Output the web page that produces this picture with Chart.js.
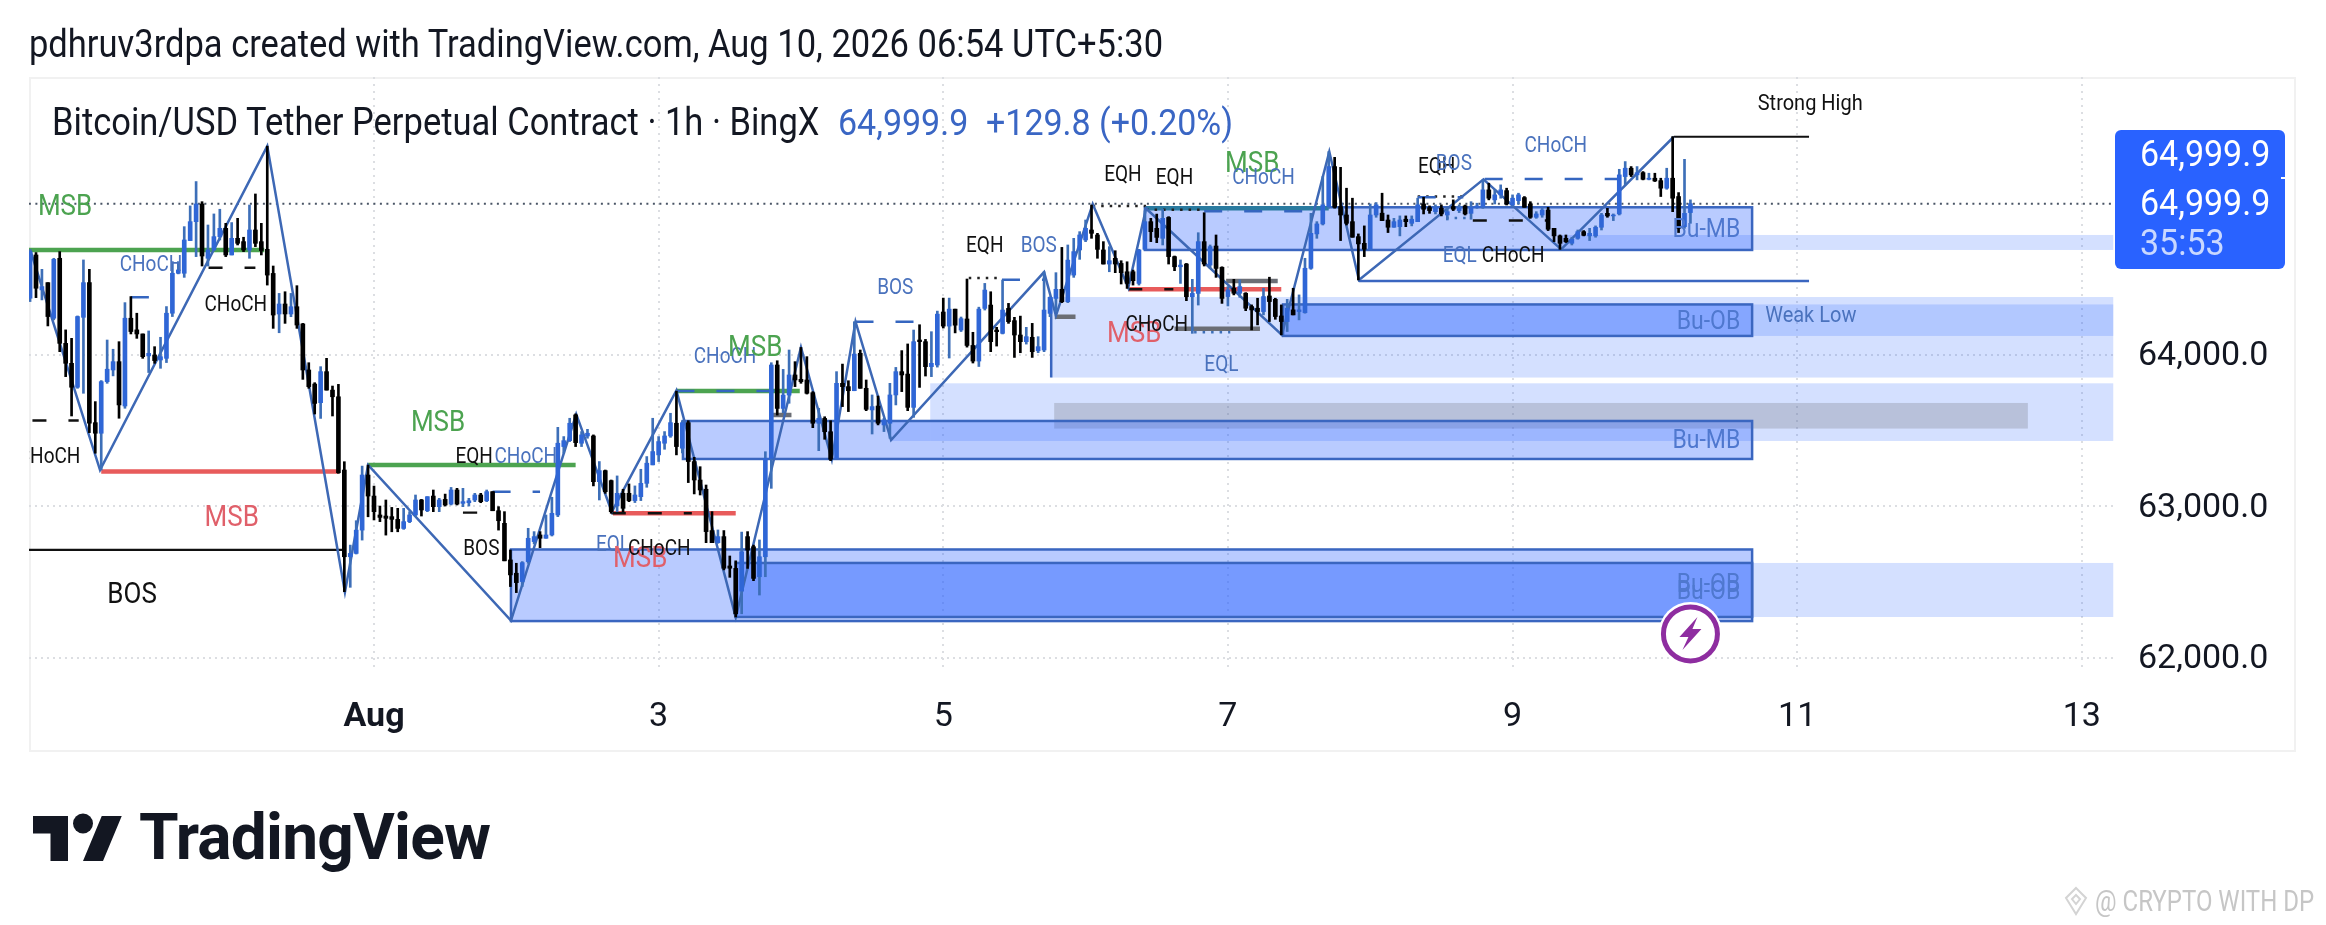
<!DOCTYPE html>
<html><head><meta charset="utf-8">
<script src="https://cdn.jsdelivr.net/npm/chart.js@4/dist/chart.umd.min.js"></script>
<style>
html,body{margin:0;padding:0;background:#fff;width:2326px;height:925px;overflow:hidden;font-family:Roboto,sans-serif}
canvas{position:absolute;left:0;top:0}
.t{position:absolute;white-space:nowrap;line-height:1;transform:scaleY(1.1);transform-origin:0 50%}
#frame{position:absolute;left:29px;top:77px;width:2267px;height:675px;border:2px solid #f1f1f1;box-sizing:border-box}
.tag{position:absolute;background:#2962ff;left:2115px;width:170px}
</style></head><body>
<div id="frame"></div>
<canvas id="c" width="2326" height="925"></canvas>
<div class="t" style="left:29px;top:27px;font-size:34.5px;color:#131722">pdhruv3rdpa created with TradingView.com, Aug 10, 2026 06:54 UTC+5:30</div>
<div class="t" style="left:52px;top:105px;font-size:34.5px;color:#131722">Bitcoin/USD Tether Perpetual Contract · 1h · BingX</div>
<div class="t" style="left:838px;top:105px;font-size:34px;color:#3a66c4">64,999.9</div>
<div class="t" style="left:986px;top:105px;font-size:34px;color:#3a66c4">+129.8 (+0.20%)</div>
<div class="tag" style="top:130px;height:47px;border-radius:6px 6px 0 0"></div>
<div class="tag" style="top:179px;height:90px;border-radius:0 0 6px 6px"></div>
<div class="tag" style="top:170px;height:14px;width:166px"></div>
<div class="t" style="left:2140px;top:136px;font-size:34px;color:#fff">64,999.9</div>
<div class="t" style="left:2140px;top:185px;font-size:34px;color:#fff">64,999.9</div>
<div class="t" style="left:2140px;top:225px;font-size:34px;color:#c9d8ff">35:53</div>
<svg style="position:absolute;left:33px;top:806px" width="90" height="70" viewBox="0 0 36 28"><path fill="#131722" d="M14 22H7V11H0V4h14v18zM28 22h-8l7.5-18h8L28 22z"/><circle fill="#131722" cx="20" cy="7" r="4"/></svg>
<div class="t" style="left:139px;top:806px;font-size:64px;font-weight:700;color:#131722;letter-spacing:-0.8px;transform:none">TradingView</div>
<svg style="position:absolute;left:2062px;top:886px" width="28" height="30" viewBox="0 0 28 30"><path fill="none" stroke="#d4d4d4" stroke-width="2" d="M14 2 L24 12 L14 28 L4 12 Z M14 9 L18 13 L14 18 L10 13 Z"/></svg>
<div class="t" style="left:2095px;top:889px;font-size:24px;color:#c6c6c6;transform:scaleY(1.2)">@ CRYPTO WITH DP</div>
<script>
const firstHour = -58;
const opens = [
64375,64661,64430,64478,64243,64639,64077,63945,63787,64249,64478,63553,63483,63824,63901,63956,63663,64243,64166,64139,63994,64000,63967,63978,64276,64540,64540,64756,64881,64998,64639,64694,64782,64837,64661,64771,64749,64694,64826,64749,
64698,64539,64271,64337,64271,64319,64205,63901,63808,63685,63890,63768,63724,63240,62667,62689,62843,63207,63068,62943,62936,62932,62914,62854,62899,62943,63042,62971,63068,62998,63046,63015,63108,63020,63024,63042,63075,63037,63097,62971,
62888,62646,62558,62503,62635,62767,62811,62789,62811,62943,63395,63434,63604,63417,63465,63465,63163,63236,63170,63003,63086,63086,63038,63064,63152,63274,63340,63417,63465,63549,
63384,63553,63296,63174,63113,62840,62760,62800,62606,62590,62440,62800,62733,62535,62667,63317,63934,63647,63735,63868,63839,63835,63751,63549,63581,63493,63317,63813,63791,63764,
64011,63780,63637,63663,63538,63549,63736,63890,63874,63654,64099,64088,63923,63934,64284,64191,64303,64165,64238,64063,63960,64308,64330,64165,64143,64308,64227,64132,64088,64117,
64028,64033,64275,64374,64434,64352,64528,64694,64760,64826,64793,64694,64601,64639,64605,64550,64550,64473,64698,64881,64837,64771,64909,64650,64583,64601,64385,64407,64749,64594,
64720,64579,64386,64441,64408,64408,64320,64309,64287,64390,64368,64258,64221,64298,64287,64280,64573,64800,64866,64981,65245,64981,64925,64881,64782,64738,64699,64925,64937,64892,
64844,64848,64897,64870,64881,64998,64974,64947,64970,64925,64981,64954,64985,64936,64974,64976,65091,65025,65058,65086,64991,65020,65040,64998,64910,64925,64958,64837,64787,64771,
64738,64771,64815,64787,64787,64844,64936,64919,64932,65179,65234,65190,65205,65161,65168,65152,65102,65168,65047,64848,64941];
const highs = [
64694,64677,64566,64478,64639,64683,64166,64110,64258,64628,64566,63692,63831,64099,64038,64088,64346,64386,64276,64139,64159,64055,64117,64320,64617,64617,64848,64985,65146,65013,64859,64932,64963,64870,64875,64903,64778,64991,65064,64870,
65380,64588,64407,64418,64407,64458,64209,63949,63817,63923,63978,63795,63806,63295,62744,62905,63266,63273,63134,63002,63042,62993,62987,62987,62965,63075,63046,63064,63108,63053,63081,63125,63119,63119,63053,63086,63086,63108,63097,62998,
62965,62712,62624,62635,62855,62833,62833,62943,63060,63522,63461,63582,63611,63494,63509,63472,63296,63240,63174,63201,63113,63148,63135,63245,63329,63582,63461,63494,63615,63761,
63566,63566,63324,63262,63141,62965,62844,62840,62672,62640,62830,62833,62744,62778,63361,63949,63962,63905,64033,63956,64050,63989,63758,63648,63592,63566,63890,63940,63830,64220,
64033,63835,63736,63729,63582,63813,63918,64029,64073,64165,64200,64103,64154,64290,64376,64376,64303,64251,64502,64150,64316,64473,64418,64183,64495,64341,64249,64257,64183,64209,
64121,64550,64385,64544,64711,64727,64771,64815,64892,64991,64804,64749,64716,64689,64623,64616,64561,64698,64953,64903,64931,64962,64914,64654,64628,64605,64500,64808,64940,64727,
64793,64583,64452,64500,64496,64412,64331,64375,64441,64514,64375,64331,64368,64441,64397,64639,64936,64881,65179,65344,65306,65240,65102,65036,64800,64853,64998,65007,65069,64925,
64903,64919,64919,64919,65036,65042,64985,64992,64992,64970,65025,64992,64991,65013,65003,65157,65135,65091,65124,65102,65058,65069,65047,65013,64947,64969,64976,64837,64793,64793,
64778,64826,64822,64837,64853,64936,64969,64932,65227,65278,65245,65245,65212,65201,65201,65168,65234,65443,65073,65293,65025];
const lows = [
64353,64379,64364,64192,64232,64022,63857,63597,63780,63747,63487,63351,63240,63813,63862,63582,63648,64139,64110,63978,63884,63945,63912,63950,64254,64536,64513,64756,64650,64588,64588,64690,64760,64650,64661,64727,64683,64639,64716,64661,
64462,64176,64147,64209,64253,64176,63839,63780,63610,63581,63768,63597,63218,62436,62465,62685,62777,62931,62910,62899,62810,62832,62832,62848,62892,62932,62936,62965,62965,62965,63002,63009,63009,62998,63002,63031,63024,63031,62971,62843,
62640,62470,62430,62470,62624,62752,62727,62789,62804,62932,63351,63428,63395,63395,63450,63135,63042,63086,62954,62965,62965,63031,63025,63038,63126,63274,63296,63377,63456,63340,
63353,63157,63082,63075,62760,62760,62756,62580,62531,62269,62290,62590,62509,62414,62535,63119,63603,63619,63681,63791,63813,63742,63520,63368,63443,63302,63317,63659,63626,63764,
63780,63632,63478,63538,63494,63450,63670,63758,63632,63588,63786,63861,63857,63920,64178,63980,64146,64155,64052,63947,63924,64297,64022,64059,64139,64209,63984,64015,64072,63984,
64015,64022,64253,64286,64346,64346,64513,64632,64749,64771,64639,64601,64550,64544,64469,64440,64462,64462,64694,64749,64742,64727,64601,64557,64473,64359,64143,64330,64588,64572,
64513,64341,64324,64397,64381,64293,64166,64199,64265,64221,64236,64133,64155,64265,64232,64276,64566,64771,64859,64970,64970,64756,64859,64778,64496,64650,64694,64910,64888,64809,
64844,64787,64848,64853,64881,64932,64936,64932,64919,64892,64954,64941,64925,64897,64969,64969,65025,64998,65036,64991,64980,64998,64976,64903,64903,64910,64822,64749,64698,64743,
64727,64765,64787,64756,64778,64826,64910,64888,64925,65124,65179,65157,65157,65157,65146,65047,65095,64947,64809,64837,64870];
const closes = [
64683,64441,64452,64254,64632,64077,63945,63787,64254,64478,63549,63483,63824,63906,63956,63670,64243,64155,64139,63989,64011,63963,63989,64276,64540,64562,64760,64881,64998,64654,64694,64782,64837,64661,64771,64738,64694,64826,64738,64690,
64528,64264,64337,64271,64319,64198,63901,63791,63680,63890,63768,63724,63222,62667,62689,62843,63207,63068,62965,62927,62921,62914,62854,62899,62943,63042,62976,63064,62998,63042,63009,63108,63015,63031,63037,63075,63031,63097,62971,62905,
62640,62547,62496,62628,62789,62800,62789,62811,62954,63417,63434,63549,63421,63472,63483,63163,63236,63097,62965,63086,62987,63038,63075,63152,63285,63362,63428,63465,63553,63395,
63553,63296,63174,63108,62833,62760,62800,62591,62591,62290,62700,62711,62524,62667,63317,63934,63647,63735,63868,63835,63824,63747,63549,63581,63493,63311,63813,63791,63764,64006,
63780,63641,63659,63549,63570,63736,63890,63868,63654,64088,64088,63923,63945,64270,64191,64303,64197,64240,64063,63960,64303,64429,64088,64154,64297,64220,64132,64088,64121,64022,
64055,64297,64381,64434,64352,64627,64683,64793,64837,64804,64698,64601,64623,64601,64544,64473,64491,64694,64881,64815,64777,64903,64650,64583,64594,64385,64407,64749,64601,64716,
64572,64374,64430,64408,64452,64309,64298,64287,64386,64353,64254,64221,64309,64265,64298,64573,64804,64866,64992,65245,64976,64925,64870,64778,64734,64699,64925,64992,64888,64844,
64881,64892,64881,64897,64992,64963,64954,64976,64932,64947,64963,64974,64932,64976,64985,65091,65036,65058,65091,64998,65036,65058,64976,64910,64932,64958,64831,64787,64738,64749,
64765,64815,64791,64804,64844,64925,64919,64925,65190,65234,65190,65205,65161,65168,65150,65102,65168,65036,64837,64936,64999.9];

const xTickHours = [0,48,96,144,192,240,288];
const xTickLabels = ['Aug','3','5','7','9','11','13'];
const yTickValues = [62000,63000,64000];
const lastPrice = 64999.9;

// zigzag pivots: [hour, price]
const zigzag = [[-58,64698],[-46.2,63240],[-18,65380],[-4.9,62434],[-1,63273],[23.1,62245],[34.1,63610],[40.1,62963],[51,63766],[61,62266],[72,64051],[77.2,63310],[81.2,64220],[87.2,63438],[113,64548],[115,64260],[121.2,64998],[127.2,64445],[130.2,64968],[153.1,64132],[161.1,65343],[166.1,64495],[187.1,65161],[200.2,64698],[219.2,65442]];

// level segments: [hourFrom, hourTo, price]
const greenLevels = [[-58.2,-18.5,64694],[-1,34,63273],[51,71.8,63762]];
const tealLevels = [[130,161,64969]];
const redLevels = [[-46,-6,63231],[40.3,61,62954],[127.2,153,64434]];
const grayLevels = [[114.8,118.3,64253],[66.8,70.4,63603],[143.7,152.4,64489],[135,149.4,64174]];
const blackLevels = [[-58.2,-5.3,62712],[219.2,242,65442],[15,17.4,62958]];
const blueLevels = [[166.1,242,64489],[114.2,114.2,64383]];
const blackDashed = [[-57.6,-49.8,63567],[-27.9,-20,64576],[40.1,53.6,62955],[127.2,134.8,64434],[185.3,198,64888]];
const blueDashed = [[-41,-34,64381],[20,28,63097],[51,69,63762],[81.2,94.3,64220],[105.9,113,64498],[140,158,64950],[187.3,210,65163],[176,183.7,65042]];
const blackDotted = [[100.3,105.2,64508],[121.2,130.2,64985],[130.2,140.2,64960],[176,183.7,65047]];
const blueDotted = [[138.3,144.4,64150],[180.8,184.3,64905]];
const anchorLine = [[114.2,64383],[114.2,63851]];

// zones and boxes: [hourFrom, hourTo, priceTop, priceBottom]
const zones = [[200.2,293.3,64793,64694],[114.2,293.3,64383,63851],[153.3,293.3,64334,64126],[93.8,293.3,63813,63432],[87.2,93.8,63564,63432],[61,293.3,62626,62269]];
const boxes = [[130,232.4,64976,64694],[153.3,232.4,64334,64126],[52.1,232.4,63564,63313],[23.1,232.4,62715,62242],[61,232.4,62626,62269]];
const grayBoxes = [[114.7,278.9,63683,63514]];

// labels: [hour, price, text, colour, size, align]
const BL='#4a72bd', GR='#4ca350', RD='#e0606a', BK='#111111', BO='#4f78cf';
const labels = [
[-52.1,64988,'MSB',GR,26],[-37.6,64608,'CHoCH',BL,19],[-23.3,64344,'CHoCH',BK,19],[-54.8,63339,'CHoCH',BK,19],
[-24,62936,'MSB',RD,26],[-40.8,62429,'BOS',BK,26],[10.8,63560,'MSB',GR,26],[16.9,63339,'EQH',BK,19],[25.6,63339,'CHoCH',BL,19],
[18.1,62733,'BOS',BK,19],[40.3,62758,'EQL',BL,19],[44.9,62665,'MSB',RD,26],[48.1,62733,'CHoCH',BK,19],[59.2,64000,'CHoCH',BL,19],[64.3,64059,'MSB',GR,26],
[87.9,64456,'BOS',BL,19],[103,64730,'EQH',BK,19],[112.1,64730,'BOS',BL,19],[126.3,65204,'EQH',BK,19],[135,65183,'EQH',BK,19],
[148.1,65275,'MSB',GR,26],[150,65183,'CHoCH',BL,19],[142.9,63947,'EQL',BL,19],[128.2,64150,'MSB',RD,26],[132,64213,'CHoCH',BK,19],
[179.2,65255,'EQH',BK,19],[182.1,65277,'BOS',BL,19],[199.3,65392,'CHoCH',BL,19],[183.1,64667,'EQL',BL,19],[192.1,64667,'CHoCH',BK,19],
[242.2,65674,'Strong High',BK,20],[242.3,64271,'Weak Low',BL,20],
[230.4,64839,'Bu-MB',BO,23,'right'],[230.4,64231,'Bu-OB',BO,23,'right'],[230.4,63445,'Bu-MB',BO,23,'right'],[230.4,62494,'Bu-OB',BO,23,'right'],[230.4,62447,'Bu-OB',BO,23,'right']
];
const eventMark = [222, 62157];

const up=[],down=[],wickUp=[],wickDown=[];
opens.forEach((o,i)=>{
  const x=firstHour+i, c=closes[i], isUp=c>=o;
  (isUp?up:down).push({x,y:[o,c]});
  (isUp?wickUp:wickDown).push({x,y:[lows[i],highs[i]]});
});
const segs = list => { const d=[]; list.forEach(s=>{d.push({x:s[0],y:s[2]},{x:s[1],y:s[2]},{x:s[1],y:null});}); return d; };
const pts = list => list.map(p=>({x:p[0],y:p[1]}));
const line = (data,color,width,order,dash) => ({type:'line',data,borderColor:color,borderWidth:width,pointRadius:0,order,borderDash:dash||[],spanGaps:false,tension:0,borderCapStyle:'butt'});
const bar = (data,color,th,order) => ({type:'bar',data,backgroundColor:color,barThickness:th,grouped:false,borderWidth:0,order});

const overlays = {
  id:'overlays',
  beforeDatasetsDraw(ch){
    const {ctx,scales:{x,y}}=ch;
    const rect=(b,fill,stroke)=>{
      const l=x.getPixelForValue(b[0]),r=x.getPixelForValue(b[1]),t=y.getPixelForValue(b[2]),m=y.getPixelForValue(b[3]);
      ctx.fillStyle=fill; ctx.fillRect(l,t,r-l,m-t);
      if(stroke){ctx.strokeStyle=stroke;ctx.lineWidth=2.5;ctx.strokeRect(l,t,r-l,m-t);}
    };
    ctx.save();
    zones.forEach(b=>rect(b,'rgba(41,98,255,0.2)'));
    grayBoxes.forEach(b=>rect(b,'rgba(120,123,134,0.3)'));
    boxes.forEach(b=>rect(b,'rgba(41,98,255,0.33)','#3a66c0'));
    ctx.restore();
  },
  afterDatasetsDraw(ch){
    const {ctx,scales:{x,y},chartArea:a}=ch;
    ctx.save();
    ctx.beginPath();ctx.rect(a.left,a.top,a.right-a.left,a.bottom-a.top);ctx.clip();
    ctx.textBaseline='middle';
    labels.forEach(l=>{
      ctx.save();
      ctx.translate(x.getPixelForValue(l[0]),y.getPixelForValue(l[1])+2.5);
      ctx.scale(1,1.12);
      ctx.font=l[4]+'px Roboto';ctx.fillStyle=l[3];ctx.textAlign=l[5]||'center';
      ctx.fillText(l[2],0,0);
      ctx.restore();
    });
    const cx=x.getPixelForValue(eventMark[0]),cy=y.getPixelForValue(eventMark[1]);
    ctx.beginPath();ctx.arc(cx,cy,32,0,Math.PI*2);ctx.fillStyle='#fff';ctx.fill();
    ctx.beginPath();ctx.arc(cx,cy,27,0,Math.PI*2);ctx.strokeStyle='#8e2da0';ctx.lineWidth=5;ctx.stroke();
    ctx.fillStyle='#8e2da0';ctx.beginPath();
    [[7,-17],[-11,3],[-2,3],[-8,16],[11,-5],[2,-5]].forEach((p,i)=>i?ctx.lineTo(cx+p[0],cy+p[1]):ctx.moveTo(cx+p[0],cy+p[1]));
    ctx.closePath();ctx.fill();
    ctx.restore();
  }
};

new Chart(document.getElementById('c'),{
  type:'bar',
  plugins:[overlays],
  data:{datasets:[
    bar(down,'#000000',4,1),
    bar(up,'#2f66d6',4,2),
    bar(wickDown,'#000000',2,3),
    bar(wickUp,'#3d6fb8',2,4),
    line(pts(zigzag),'#3d68b5',2.5,10),
    line(segs(blackDashed),'#111',2.5,11,[14,22]),
    line(segs(blueDashed),'#3566c0',2.5,11,[18,22]),
    line(segs(blackDotted),'#222',2.5,11,[2.5,6]),
    line(segs(blueDotted),'#3d6fb8',2.5,11,[2.5,6]),
    line(segs(blackLevels),'#111',2.2,12),
    line(segs(blueLevels),'#3a66c0',2.5,12),
    line(pts(anchorLine),'#3a66c0',2.5,12),
    line(segs(grayLevels),'#6b6e75',4.5,13),
    line(segs(greenLevels),'#4ca350',4.5,14),
    line(segs(tealLevels),'#2a7ba0',4.5,14),
    line(segs(redLevels),'#e85b5b',4.5,14),
    line(pts([[-58.2,lastPrice],[293.3,lastPrice]]),'#4a5566',2,15,[2,4.5])
  ]},
  options:{
    responsive:false,animation:false,devicePixelRatio:1,
    layout:{padding:{left:29,top:77,right:0,bottom:0}},
    plugins:{legend:{display:false},tooltip:{enabled:false},title:{display:false}},
    scales:{
      x:{type:'linear',min:-58.18,max:293.26,offset:false,
        grid:{color:'#dcdee2',lineWidth:2,drawTicks:false,offset:false},
        border:{display:false,dash:[2,5]},
        afterBuildTicks:s=>{s.ticks=xTickHours.map(v=>({value:v}));},
        afterFit:s=>{s.height=255;},
        ticks:{autoSkip:false,maxRotation:0,padding:27,color:'#131722',
          font:c=>({family:'Roboto',size:34,weight:c.index===0?'700':'400'}),
          callback:(v)=>xTickLabels[xTickHours.indexOf(v)]}
      },
      y:{type:'linear',position:'right',min:61918.7,max:65836.8,
        grid:{color:'#dcdee2',lineWidth:2,drawTicks:false},
        border:{display:false,dash:[2,4]},
        afterBuildTicks:s=>{s.ticks=yTickValues.map(v=>({value:v}));},
        afterFit:s=>{s.width=213;},
        ticks:{padding:25,labelOffset:2,color:'#131722',font:{family:'Roboto',size:34},
          callback:v=>v.toLocaleString('en-US',{minimumFractionDigits:1,maximumFractionDigits:1})}
      }
    }
  }
});
</script>
</body></html>
